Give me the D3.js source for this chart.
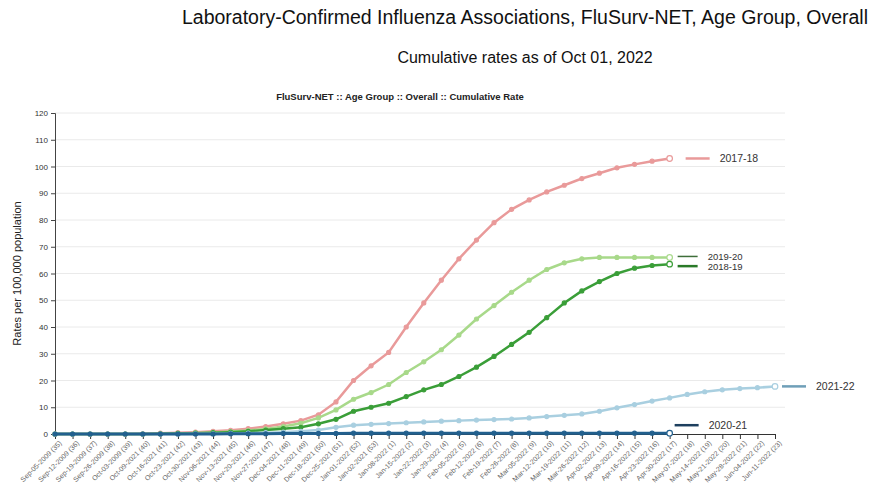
<!DOCTYPE html>
<html><head><meta charset="utf-8">
<script src="https://cdn.jsdelivr.net/npm/d3@7"></script>
<style>body{margin:0;background:#fff;font-family:Arial,"Liberation Sans",sans-serif}</style>
</head><body>
<svg id="chart" width="887" height="500"></svg>
<script>
// week labels on the x axis
const weeks = ['Sep-05-2009 (35)','Sep-12-2009 (36)','Sep-19-2009 (37)','Sep-26-2009 (38)','Oct-03-2009 (39)',
  'Oct-09-2021 (40)','Oct-16-2021 (41)','Oct-23-2021 (42)','Oct-30-2021 (43)','Nov-06-2021 (44)','Nov-13-2021 (45)',
  'Nov-20-2021 (46)','Nov-27-2021 (47)','Dec-04-2021 (48)','Dec-11-2021 (49)','Dec-18-2021 (50)','Dec-25-2021 (51)',
  'Jan-01-2022 (52)','Jan-02-2021 (53)','Jan-08-2022 (1)','Jan-15-2022 (2)','Jan-22-2022 (3)','Jan-29-2022 (4)',
  'Feb-05-2022 (5)','Feb-12-2022 (6)','Feb-19-2022 (7)','Feb-26-2022 (8)','Mar-05-2022 (9)','Mar-12-2022 (10)',
  'Mar-19-2022 (11)','Mar-26-2022 (12)','Apr-02-2022 (13)','Apr-09-2022 (14)','Apr-16-2022 (15)','Apr-23-2022 (16)',
  'Apr-30-2022 (17)','May-07-2022 (18)','May-14-2022 (19)','May-21-2022 (20)','May-28-2022 (21)','Jun-04-2022 (22)','Jun-11-2022 (23)']

const seasons = ['2017-18','2019-20','2018-19','2021-22','2020-21']
const colors = ['#e99a9a','#a8d98a','#3a9e38','#a9cfe0','#22608e']
const legendColors = ['#e99a9a','#3f6e3a','#2a7a28','#6f9fb8','#1d3f5e']
const widths = [2.5,2.5,2.5,2.5,3]

const rate1718 = [0,0,0,0,0,0.1,0.3,0.5,0.7,1.0,1.4,2.0,2.8,3.8,5.0,7.2,12,20,25.5,30.5,40,49,57.5,65.5,72.5,79,84,87.5,90.5,93,95.5,97.5,99.5,100.8,102,103]
const rate1920 = [0,0,0,0,0,0,0.1,0.2,0.4,0.6,0.9,1.3,1.9,2.8,4,6,9,13,15.5,18.5,23,27,31.5,37,43,48,53,57.5,61.5,64,65.5,66,66,66,66,66]
const rate1819 = [0,0,0,0,0,0,0.1,0.2,0.3,0.5,0.7,1.0,1.5,2.0,2.5,3.8,5.5,8.5,10,11.5,14,16.5,18.5,21.5,25,29,33.5,38,43.5,49,53.5,57,60,62,63,63.5]
const rate2122 = [0,0,0,0,0,0,0,0,0.1,0.1,0.2,0.3,0.5,0.7,1,1.5,2.5,3.3,3.6,3.9,4.2,4.5,4.8,5,5.2,5.4,5.6,6,6.5,7,7.5,8.5,9.8,11,12.3,13.5,14.8,15.8,16.5,17,17.3,17.8]
const rate2021 = [0,0,0,0,0,0,0,0,0,0,0.1,0.1,0.1,0.2,0.2,0.2,0.2,0.3,0.3,0.3,0.3,0.3,0.3,0.3,0.3,0.3,0.3,0.3,0.3,0.3,0.3,0.3,0.3,0.3,0.3,0.3]
const rates = [rate1718,rate1920,rate1819,rate2122,rate2021]
const legendDy = [0,-1,2,0,-8]
const legendDx = [16,8,8,7,5]
const legendLen = [24,20,20,24,24]
const yTicks = d3.range(0,121,10)

const svg = d3.select('#chart')
const m = {left:55, right:112, top:113, bottom:66}

const x = d3.scalePoint().domain(weeks).range([m.left, 887-m.right])
const y = d3.scaleLinear().domain([0,120]).range([500-m.bottom, m.top])

// titles
svg.append('text').attr('x',525).attr('y',24).attr('text-anchor','middle')
  .style('font-size','19.5px').style('fill','#111').text('Laboratory-Confirmed Influenza Associations, FluSurv-NET, Age Group, Overall')
svg.append('text').attr('x',525).attr('y',63).attr('text-anchor','middle')
  .style('font-size','16px').style('fill','#111').text('Cumulative rates as of Oct 01, 2022')
svg.append('text').attr('x',400).attr('y',100).attr('text-anchor','middle')
  .style('font-size','9.5px').style('font-weight','bold').style('fill','#222').text('FluSurv-NET :: Age Group :: Overall :: Cumulative Rate')
svg.append('text').attr('transform','translate(21,'+ (y(60)) +') rotate(-90)').attr('text-anchor','middle')
  .style('font-size','11px').style('fill','#222').text('Rates per 100,000 population')

// grid
svg.append('g').selectAll('line').data(yTicks.slice(1)).join('line')
  .attr('x1',m.left).attr('x2',887-m.right+10).attr('y1',d=>y(d)).attr('y2',d=>y(d))
  .style('stroke','#eaeaea')

// y axis
const ya = svg.append('g').attr('transform','translate('+m.left+',0)')
  .call(d3.axisLeft(y).tickValues(yTicks).tickSize(4))
ya.selectAll('text').attr('fill','#333').style('font-size','8px')
ya.selectAll('line,path').attr('stroke','#444')

// x axis
const xa = svg.append('g').attr('transform','translate(0,'+y(0)+')')
  .call(d3.axisBottom(x).tickSize(5))
xa.selectAll('text').attr('text-anchor','end').attr('dx','-0.3em').attr('dy','0.5em')
  .attr('transform','rotate(-45)').attr('fill','#666').style('font-size','7px')
xa.selectAll('line,path').attr('stroke','#333')

const line = d3.line().x((d,i)=>x(weeks[i])).y(d=>y(d))

seasons.forEach((s,k)=>{
  const data = rates[k]
  const g = svg.append('g')
  g.append('path').datum(data).attr('d',line).style('fill','none')
    .style('stroke',colors[k]).style('stroke-width',widths[k])
  g.selectAll('circle').data(data).join('circle')
    .attr('cx',(d,i)=>x(weeks[i])).attr('cy',d=>y(d)).attr('r',(d,i)=>i==data.length-1?2.8:2)
    .style('fill',(d,i)=>i==data.length-1?'#fff':colors[k]).style('stroke',colors[k]).style('stroke-width',1.2)
  const lx = x(weeks[data.length-1]) + legendDx[k]
  const ly = y(data[data.length-1]) + legendDy[k]
  g.append('line').attr('x1',lx).attr('x2',lx+legendLen[k]).attr('y1',ly).attr('y2',ly)
    .style('stroke',legendColors[k]).style('stroke-width',k==1?1.5:2.5)
  g.append('text').attr('x',lx+legendLen[k]+10).attr('y',ly+3.5).style('font-size',k==1||k==2?'9.5px':'10.5px').style('fill','#333').text(s)
})
</script>
</body></html>
